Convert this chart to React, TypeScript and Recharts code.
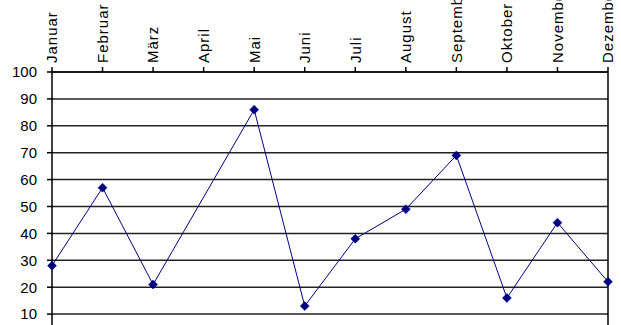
import React from "react";
import { LineChart, Line, XAxis, YAxis, CartesianGrid, ReferenceLine } from "recharts";

const months = ["Januar", "Februar", "März", "April", "Mai", "Juni", "Juli", "August", "September", "Oktober", "November", "Dezember"];
const values: (number | null)[] = [28, 57, 21, null, 86, 13, 38, 49, 69, 16, 44, 22];
const yTicks = [0, 10, 20, 30, 40, 50, 60, 70, 80, 90, 100];

const data = months.map((m, i) => ({ month: m, value: values[i] }));

const FONT = "'Liberation Sans', Arial, sans-serif";

const XTick = (props: any) => {
  const { x, y, payload } = props;
  return (
    <text
      x={x}
      y={y}
      transform={`rotate(-90, ${x}, ${y})`}
      textAnchor="start"
      dy="0.36em"
      fontSize={15}
      letterSpacing={1}
      fontFamily={FONT}
      fill="#000"
    >
      {payload.value}
    </text>
  );
};

const Diamond = (props: any) => {
  const { cx, cy, index } = props;
  if (cx == null || cy == null || props.value == null) return <g key={`d-${index}`} />;
  const s = 4.5;
  return (
    <polygon
      key={`d-${index}`}
      points={`${cx},${cy - s} ${cx + s},${cy} ${cx},${cy + s} ${cx - s},${cy}`}
      fill="#000080"
      stroke="#000080"
      strokeWidth={0.5}
    />
  );
};

export default function App() {
  return (
    <div style={{ position: "absolute", left: 0, top: 0 }}>
      <LineChart
        width={621}
        height={360}
        data={data}
        margin={{ top: 0, right: 13, bottom: 19, left: 0 }}
      >
        <CartesianGrid horizontal vertical={false} stroke="#222" strokeWidth={1.5} />
        <XAxis
          dataKey="month"
          orientation="top"
          height={72}
          interval={0}
          tick={<XTick />}
          tickSize={5}
          tickMargin={4}
          axisLine={{ stroke: "#000", strokeWidth: 1.5 }}
          tickLine={{ stroke: "#000", strokeWidth: 1.5 }}
          padding={{ left: 0, right: 0 }}
        />
        <YAxis
          width={52}
          domain={[0, 100]}
          ticks={yTicks}
          interval={0}
          tickSize={5}
          tickMargin={10}
          axisLine={{ stroke: "#000", strokeWidth: 1.5 }}
          tickLine={{ stroke: "#000", strokeWidth: 1.5 }}
          tick={{ fontSize: 15, fontFamily: FONT, fill: "#000" }}
        />
        <ReferenceLine x="Dezember" stroke="#000" strokeWidth={1.5} ifOverflow="extendDomain" />
        <Line
          type="linear"
          dataKey="value"
          stroke="#000080"
          strokeWidth={1}
          connectNulls
          dot={<Diamond />}
          activeDot={false}
          isAnimationActive={false}
        />
      </LineChart>
    </div>
  );
}
